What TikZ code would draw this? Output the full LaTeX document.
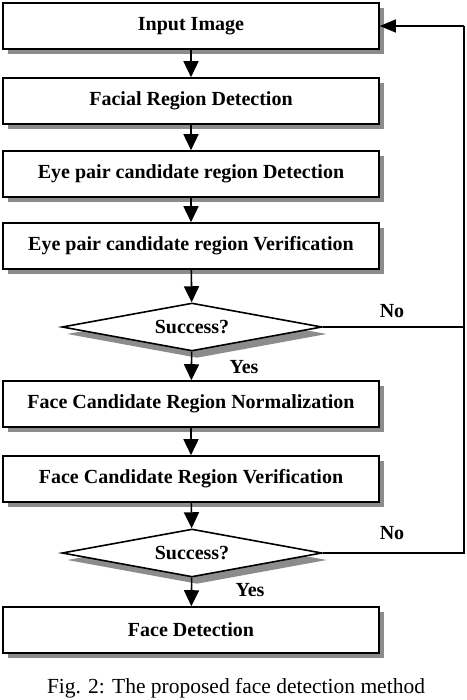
\documentclass[tikz,border=0pt]{standalone}
\usepackage{fontspec}
\setmainfont{Liberation Serif}
\usetikzlibrary{arrows.meta, shadows, shapes.geometric, positioning}
\tikzset{
    stepbox/.style={draw, line width=1.6pt, fill=white, minimum width=376pt, minimum height=46pt,
        inner sep=0pt, font=\fontsize{20}{24}\selectfont\bfseries,
        drop shadow={shadow xshift=5pt, shadow yshift=-5pt, fill=black!45, opacity=1}},
    decide/.style={draw, diamond, line width=1.6pt, fill=white, minimum width=260pt, minimum height=48pt,
        aspect=5.4, inner sep=0pt, font=\fontsize{20}{24}\selectfont\bfseries,
        drop shadow={shadow xshift=5pt, shadow yshift=-7pt, fill=black!45, opacity=1}},
    flow/.style={line width=1.6pt, -{Triangle[width=15pt,length=16pt]}},
    back/.style={line width=1.2pt},
    tag/.style={font=\fontsize{20}{24}\selectfont\bfseries}
}
\begin{document}
\begin{tikzpicture}[x=1pt, y=-1pt]
    \useasboundingbox (0,0) rectangle (466,700);
    \def \fx {464}
    \node[stepbox] (img) at (191,26) {Input Image};
    \node[stepbox] (face) at (191,101) {Facial Region Detection};
    \node[stepbox] (eyed) at (191,174) {Eye pair candidate region Detection};
    \node[stepbox] (eyev) at (191,246) {Eye pair candidate region Verification};
    \node[decide] (ok1) at (192,327) {Success?};
    \node[stepbox] (norm) at (191,404) {Face Candidate Region Normalization};
    \node[stepbox] (verif) at (191,479) {Face Candidate Region Verification};
    \node[decide] (ok2) at (192,553) {Success?};
    \node[stepbox] (det) at (191,630) {Face Detection};
    \node[font=\fontsize{21.5}{25}\selectfont] (cap) at (236,688) {Fig. 2: The proposed face detection method};
    % main flow
    \draw[flow] (img) -- (face);
    \draw[flow] (face) -- (eyed);
    \draw[flow] (eyed) -- (eyev);
    \draw[flow] (eyev) -- (ok1);
    \draw[flow] (ok1) -- (norm);
    \draw[flow] (norm) -- (verif);
    \draw[flow] (verif) -- (ok2);
    \draw[flow] (ok2) -- (det);
    % loop back
    \coordinate (c1) at (\fx,327);
    \coordinate (c2) at (\fx,553);
    \coordinate (c0) at (\fx,26);
    \draw[back] (ok1.east) -- (c1);
    \draw[back] (ok2.east) -- (c2) -- (c0);
    \draw[back, -{Triangle[width=13pt,length=16pt]}] (c0) -- (img.east);
    \node[tag] (no1) at (392,311) {No};
    \node[tag] (no2) at (392,533) {No};
    \node[tag] (yes1) at (244,367) {Yes};
    \node[tag] (yes2) at (250,590) {Yes};
\end{tikzpicture}
\end{document}
